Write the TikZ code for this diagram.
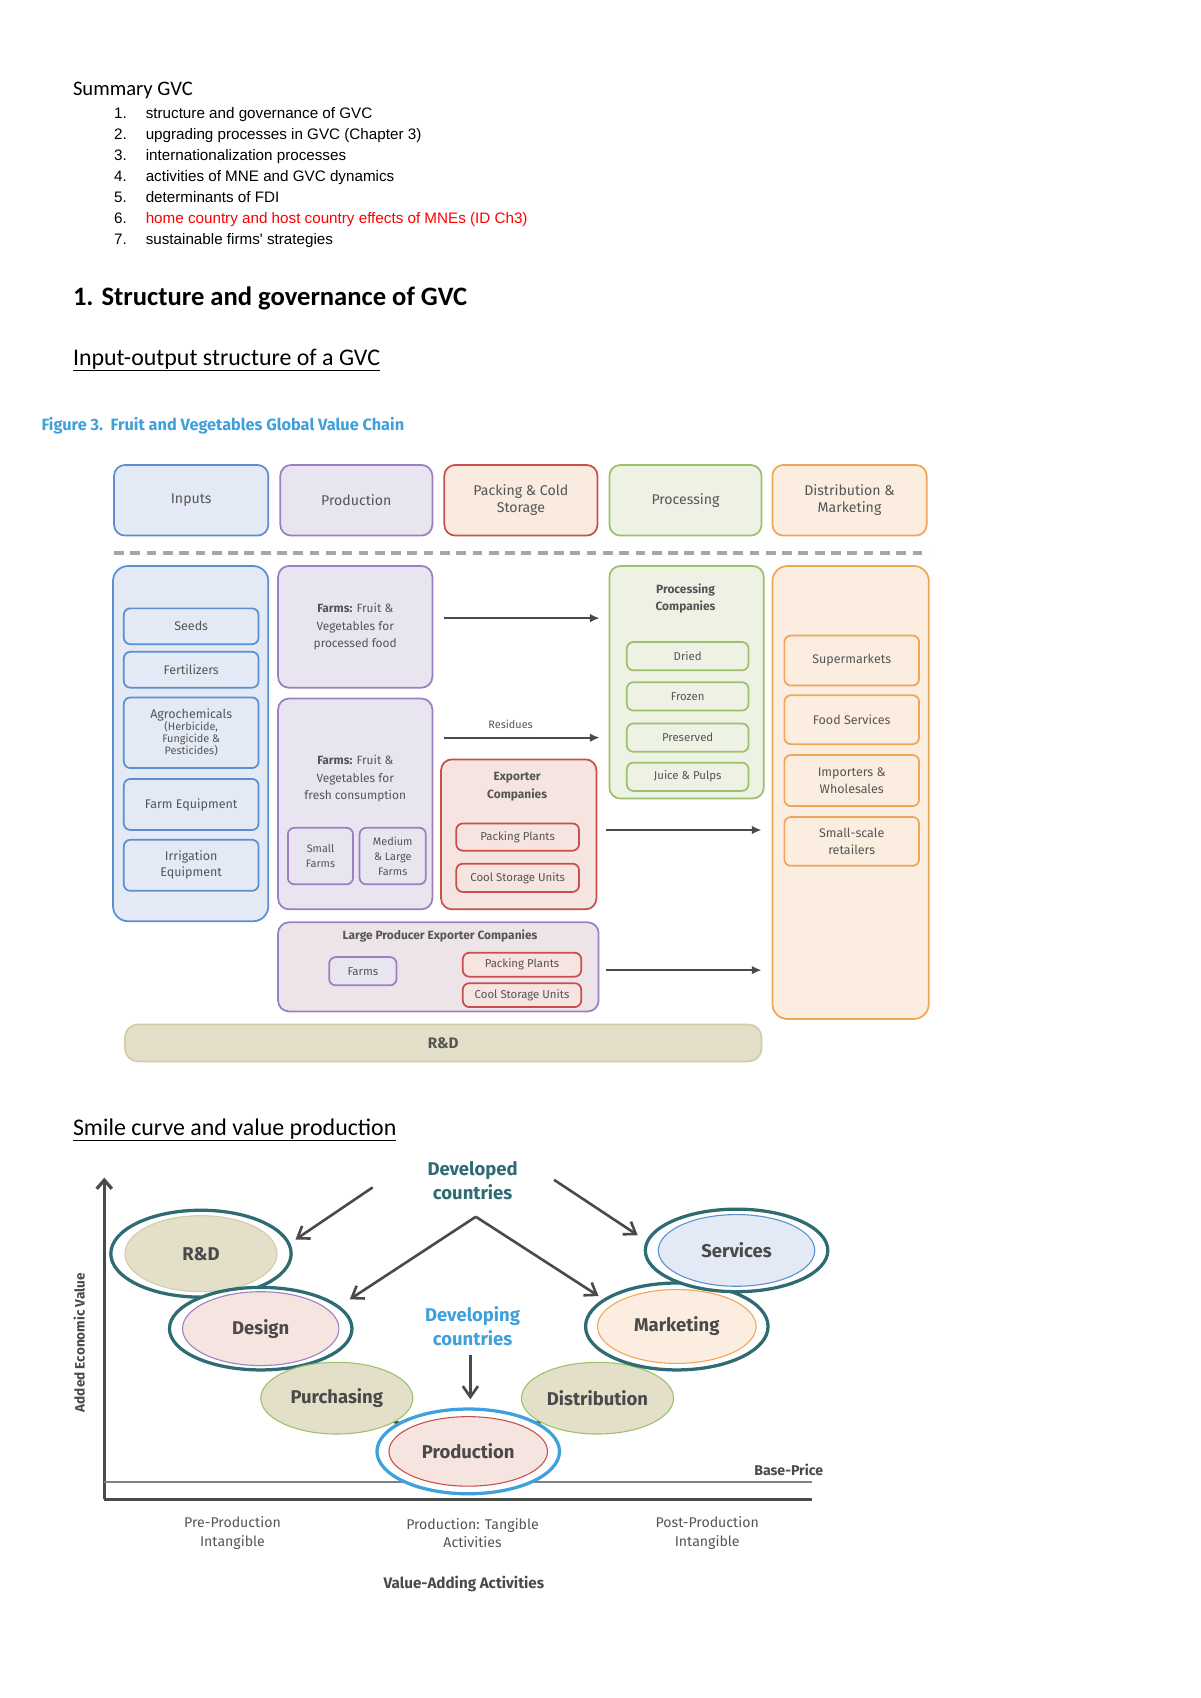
\documentclass[tikz,border=0pt]{standalone}
\usepackage{fontspec}
\setmainfont{Carlito}
\newfontfamily\arialf{Liberation Sans}
\newfontfamily\figf{Fira Sans}
\usetikzlibrary{shapes.geometric,arrows.meta}
\definecolor{bS}{HTML}{5B8FD0}\definecolor{bF}{HTML}{E3EAF5}
\definecolor{pS}{HTML}{9B7FC0}\definecolor{pF}{HTML}{E8E4F0}
\definecolor{rS}{HTML}{C9504A}\definecolor{rF}{HTML}{F5E4E0}
\definecolor{gS}{HTML}{9BC26A}\definecolor{gF}{HTML}{EEF2E4}
\definecolor{oS}{HTML}{F0A656}\definecolor{oF}{HTML}{FBEEE0}
\definecolor{tS}{HTML}{D2CCA8}\definecolor{tF}{HTML}{E4DFC9}
\definecolor{teal}{HTML}{2E6B73}\definecolor{figblue}{HTML}{3FA0DC}
\definecolor{txt}{HTML}{555555}\definecolor{arr}{HTML}{4A4A4A}
\newcommand\bx[7]{\node[#6,minimum width={(#4-(#2))*1pt},minimum height={(#5-(#3))*1pt}] (#1) at ({(#2+#4)/2},{(#3+#5)/2}) {#7};}
\tikzset{
 bb/.style={draw,line width=1.6pt,rounded corners=10pt,inner sep=0pt,align=center,text=txt,font=\figf\fontsize{13}{16}\selectfont},
 sb/.style={bb,rounded corners=6pt,font=\figf\fontsize{10.5}{12}\selectfont},
 blueb/.style={bb,draw=bS,fill=bF}, purpb/.style={bb,draw=pS,fill=pF},
 redb/.style={bb,draw=rS,fill=rF}, greenb/.style={bb,draw=gS,fill=gF},
 orangeb/.style={bb,draw=oS,fill=oF},
 sblue/.style={sb,draw=bS,fill=bF}, spurp/.style={sb,draw=pS,fill=pF},
 sred/.style={sb,draw=rS,fill=rF}, sgreen/.style={sb,draw=gS,fill=gF},
 sorange/.style={sb,draw=oS,fill=oF},
 flow/.style={draw=arr,line width=2pt,-{Latex[length=9pt,width=8pt]}},
 el/.style={ellipse,inner sep=0pt,font=\figf\bfseries\fontsize{17}{19}\selectfont,text=arr},
 ring/.style={ellipse,draw=teal,line width=3pt,fill=white},
 sarr/.style={draw=arr,line width=2.4pt,-{Straight Barb[length=10pt,width=14pt]}},
 lst/.style={anchor=base west,inner sep=0pt,font=\arialf\fontsize{14}{17}\selectfont},
 lnum/.style={anchor=base east,inner sep=0pt,font=\arialf\fontsize{14}{17}\selectfont},
}
\begin{document}
\begin{tikzpicture}[x=1pt,y=-1pt]
\useasboundingbox[fill=white] (0,0) rectangle (1105,1563);
% header
\node[anchor=base west,inner sep=0pt,font=\fontsize{19}{21}\selectfont] (sum) at (67,88) {Summary GVC};
\foreach \i/\t [count=\k] in {1/structure and governance of GVC,2/upgrading processes in GVC (Chapter 3),3/internationalization processes,4/activities of MNE and GVC dynamics,5/determinants of FDI,6/{\color{red}home country and host country effects of MNEs (ID Ch3)},7/sustainable firms' strategies}{
 \node[lnum] (n\i) at (117,{90+19.3*\k}) {\i.};
 \node[lst] (l\i) at (134,{90+19.3*\k}) {\t};
}
\node[anchor=base west,inner sep=0pt,font=\bfseries\fontsize{24.5}{26}\selectfont] (h1) at (67,281) {1. Structure and governance of GVC};
\node[anchor=base west,inner sep=0pt,font=\fontsize{22}{24}\selectfont] (h2) at (67,336) {\underline{Input-output structure of a GVC}};
\node[anchor=base west,inner sep=0pt,font=\figf\bfseries\fontsize{15}{17}\selectfont,text=figblue] (fig) at (38,396) {Figure 3.\ \ Fruit and Vegetables Global Value Chain};
% top row
\bx{tin}{105}{428}{247}{493}{blueb}{Inputs}
\bx{tpr}{258}{428}{398}{493}{purpb}{Production}
\bx{tpk}{409}{428}{550}{493}{redb,fill=oF!70!rF}{Packing \& Cold\\Storage}
\bx{tps}{561}{428}{701}{493}{greenb}{Processing}
\bx{tdi}{711}{428}{853}{493}{orangeb}{Distribution \&\\Marketing}
\draw[draw=black!35,line width=3pt,dash pattern=on 9pt off 6pt] (105,509) coordinate (d1) -- (855,509) coordinate (d2);
% inputs column
\bx{cin}{104}{521}{247}{848}{blueb,rounded corners=14pt}{}
\bx{seeds}{114}{560}{238}{593}{sblue,font=\figf\fontsize{11.5}{14}\selectfont}{Seeds}
\bx{fert}{114}{600}{238}{633}{sblue,font=\figf\fontsize{11.5}{14}\selectfont}{Fertilizers}
\bx{agro}{114}{642}{238}{707}{sblue,font=\figf\fontsize{11.5}{14}\selectfont}{Agrochemicals\\[-3pt]{\fontsize{10}{11}\selectfont (Herbicide,}\\[-3pt]{\fontsize{10}{11}\selectfont Fungicide \&}\\[-3pt]{\fontsize{10}{11}\selectfont Pesticides)}}
\bx{farmeq}{114}{717}{238}{764}{sblue,font=\figf\fontsize{11.5}{14}\selectfont}{Farm Equipment}
\bx{irr}{114}{773}{238}{820}{sblue,font=\figf\fontsize{11.5}{15}\selectfont}{Irrigation\\Equipment}
% production
\bx{pf1}{256}{521}{398}{633}{purpb,font=\figf\fontsize{11}{16}\selectfont}{\textbf{Farms:} Fruit \&\\Vegetables for\\processed food}
\bx{pf2}{256}{643}{398}{837}{purpb}{}
\node[align=center,text=txt,font=\figf\fontsize{11}{16}\selectfont] (pf2t) at (327,717) {\textbf{Farms:} Fruit \&\\Vegetables for\\fresh consumption};
\bx{small}{265}{762}{325}{814}{spurp,font=\figf\fontsize{10}{14}\selectfont}{Small\\Farms}
\bx{med}{331}{762}{392}{814}{spurp,font=\figf\fontsize{10}{14}\selectfont}{Medium\\\& Large\\Farms}
% exporter
\bx{exp}{406}{699}{549}{837}{redb}{}
\node[align=center,text=txt,font=\figf\bfseries\fontsize{11}{16}\selectfont] (expt) at (476,724) {Exporter\\Companies};
\bx{pp1}{420}{758}{533}{783}{sred}{Packing Plants}
\bx{cs1}{420}{795}{533}{821}{sred}{Cool Storage Units}
% processing
\bx{proc}{561}{521}{703}{735}{greenb}{}
\node[align=center,text=txt,font=\figf\bfseries\fontsize{11}{16}\selectfont] (proct) at (631,551) {Processing\\Companies};
\bx{dried}{577}{591}{689}{617}{sgreen}{Dried}
\bx{frozen}{577}{628}{689}{654}{sgreen}{Frozen}
\bx{pres}{577}{666}{689}{692}{sgreen}{Preserved}
\bx{juice}{577}{702}{689}{728}{sgreen}{Juice \& Pulps}
% distribution
\bx{dist}{711}{521}{855}{938}{orangeb,rounded corners=14pt}{}
\bx{super}{722}{585}{846}{631}{sorange,font=\figf\fontsize{11.5}{16}\selectfont}{Supermarkets}
\bx{food}{722}{640}{846}{685}{sorange,font=\figf\fontsize{11.5}{16}\selectfont}{Food Services}
\bx{imp}{722}{695}{846}{742}{sorange,font=\figf\fontsize{11.5}{16}\selectfont}{Importers \&\\Wholesales}
\bx{ssr}{722}{752}{846}{797}{sorange,font=\figf\fontsize{11.5}{16}\selectfont}{Small-scale\\retailers}
% large producer
\bx{lp}{256}{849}{551}{931}{purpb,fill=pF!60!rF}{}
\node[text=txt,font=\figf\bfseries\fontsize{11}{13}\selectfont] (lpt) at (405,862) {Large Producer Exporter Companies};
\bx{lpf}{303}{881}{365}{907}{spurp}{Farms}
\bx{lpp}{426}{877}{535}{899}{sred}{Packing Plants}
\bx{lpc}{426}{905}{535}{927}{sred}{Cool Storage Units}
\bx{rd}{115}{943}{701}{977}{bb,draw=tS,fill=tF,rounded corners=12pt,font=\figf\bfseries\fontsize{14}{16}\selectfont}{R\&D}
% arrows
\coordinate (a1s) at (409,569); \coordinate (a1e) at (552,569);
\coordinate (a2s) at (409,679); \coordinate (a2e) at (552,679);
\coordinate (a3s) at (558,764); \coordinate (a3e) at (701,764);
\coordinate (a4s) at (558,893); \coordinate (a4e) at (701,893);
\foreach \s/\e in {a1s/a1e,a2s/a2e,a3s/a3e,a4s/a4e}{\draw[flow] (\s) -- (\e);}
\node[text=txt,font=\figf\fontsize{10}{11}\selectfont] (res) at (470,667) {Residues};
% smile
\node[anchor=base west,inner sep=0pt,font=\fontsize{22}{24}\selectfont] (h3) at (67,1045) {\underline{Smile curve and value production}};
\coordinate (o) at (96,1380); \coordinate (ytop) at (96,1084); \coordinate (xend) at (747,1380);
\draw[draw=arr,line width=3pt] (o) -- (xend);
\draw[draw=arr,line width=3pt,-{Straight Barb[length=8pt,width=14pt]}] (o) -- (ytop);
\draw[draw=arr!70,line width=1.6pt] (96,1364) coordinate (bp1) -- (747,1364) coordinate (bp2);
\node[font=\figf\bfseries\fontsize{13}{15}\selectfont,text=arr] (bpt) at (726,1353) {Base-Price};
\node[rotate=90,font=\figf\bfseries\fontsize{12.5}{14}\selectfont,text=arr] (yl) at (73,1236) {Added Economic Value};
% connectors
\coordinate (cR) at (185,1154); \coordinate (cD) at (240,1223); \coordinate (cP) at (310,1287);
\coordinate (cPr) at (431,1336); \coordinate (cDi) at (550,1287); \coordinate (cM) at (623,1221); \coordinate (cS) at (678,1151);
\draw[draw=arr,line width=3pt] (cD) -- (cP) -- (cPr) -- (cDi) -- (cM) -- (cS);
\draw[draw=arr,line width=3pt,-{Latex[length=8pt,width=9pt]}] (cD) -- (cR);
% rings and ellipses
\node[ring,minimum width=166pt,minimum height=80pt] (rR) at (cR) {};
\node[el,draw=tS,fill=tF,line width=1pt,minimum width=140pt,minimum height=70pt] (eR) at (cR) {R\&D};
\node[ring,minimum width=168pt,minimum height=76pt] (rD) at (cD) {};
\node[el,draw=pS,fill=rF,line width=1pt,minimum width=144pt,minimum height=68pt] (eD) at (cD) {Design};
\node[el,draw=gS,fill=tF,line width=1pt,minimum width=140pt,minimum height=66pt] (eP) at (cP) {Purchasing};
\node[ring,draw=figblue,minimum width=168pt,minimum height=78pt] (rPr) at (cPr) {};
\node[el,draw=rS,fill=rF,line width=1pt,minimum width=146pt,minimum height=64pt] (ePr) at (cPr) {Production};
\node[el,draw=gS,fill=tF,line width=1pt,minimum width=140pt,minimum height=66pt] (eDi) at (cDi) {Distribution};
\node[ring,minimum width=168pt,minimum height=80pt] (rM) at (cM) {};
\node[el,draw=oS,fill=oF,line width=1pt,minimum width=146pt,minimum height=68pt] (eM) at (cM) {Marketing};
\node[ring,minimum width=168pt,minimum height=76pt] (rS) at (cS) {};
\node[el,draw=bS,fill=bF,line width=1pt,minimum width=144pt,minimum height=66pt] (eS) at (cS) {Services};
% countries
\node[align=center,font=\figf\bfseries\fontsize{17}{22}\selectfont,text=teal] (dev) at (435,1087) {Developed\\countries};
\node[align=center,font=\figf\bfseries\fontsize{17}{22}\selectfont,text=figblue] (dvg) at (435,1221) {Developing\\countries};
\coordinate (apex) at (438,1120);
\draw[sarr] (343,1093) coordinate (q1) -- (272,1141) coordinate (q2);
\draw[sarr] (510,1086) coordinate (q3) -- (587,1137) coordinate (q4);
\draw[sarr] (apex) -- (322,1196) coordinate (q5);
\draw[sarr] (apex) -- (551,1193) coordinate (q6);
\draw[sarr] (433,1247) coordinate (q7) -- (433,1288) coordinate (q8);
% x labels
\tikzset{xl/.style={align=center,font=\figf\fontsize{13}{17}\selectfont,text=txt}}
\node[xl] (x1) at (214,1411) {Pre-Production\\Intangible};
\node[xl] (x2) at (435,1411) {Production: Tangible\\Activities};
\node[xl] (x3) at (651,1411) {Post-Production\\Intangible};
\node[font=\figf\bfseries\fontsize{14}{16}\selectfont,text=arr] (xt) at (427,1458) {Value-Adding Activities};
\end{tikzpicture}
\end{document}
